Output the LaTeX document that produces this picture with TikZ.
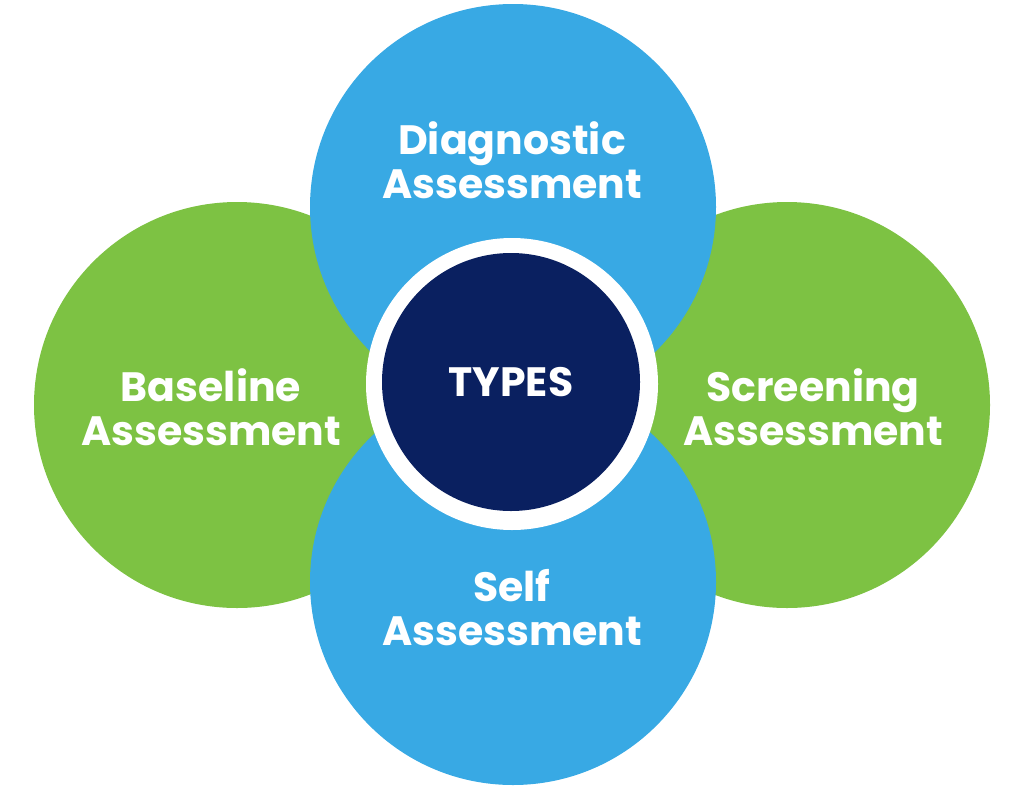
\documentclass[tikz,border=0pt]{standalone}
\usepackage{fontspec}
\setmainfont{Poppins}[BoldFont=* Bold]
\definecolor{cgreen}{HTML}{7DC243}
\definecolor{cblue}{HTML}{38A9E4}
\definecolor{cnavy}{HTML}{0A2060}
\begin{document}
\begin{tikzpicture}[x=1pt,y=-1pt,
  big/.style={circle,minimum size=406pt,inner sep=0pt},
  lbl/.style={text=white,font=\bfseries\fontsize{41}{44}\selectfont,align=center}]
\useasboundingbox (0,0) rectangle (1024,787);
\node[big,fill=cgreen] (base) at (237,405) {};
\node[big,fill=cgreen] (scr) at (787,405) {};
\node[big,fill=cblue] (diag) at (513,207) {};
\node[big,fill=cblue] (self) at (513,582) {};
\node[lbl] at (211,407) (tb) {Baseline\\Assessment};
\node[lbl] at (813,407) (ts) {Screening\\Assessment};
\node[lbl] at (512,160) (td) {Diagnostic\\Assessment};
\node[lbl] at (512,608) (tself) {Self\\Assessment};
\node[circle,fill=white,minimum size=292pt,inner sep=0pt] (ring) at (512,384) {};
\node[circle,fill=cnavy,minimum size=258pt,inner sep=0pt,text=white,font=\bfseries\fontsize{41}{44}\selectfont] (types) at (511,382) {TYPES};
\end{tikzpicture}
\end{document}
